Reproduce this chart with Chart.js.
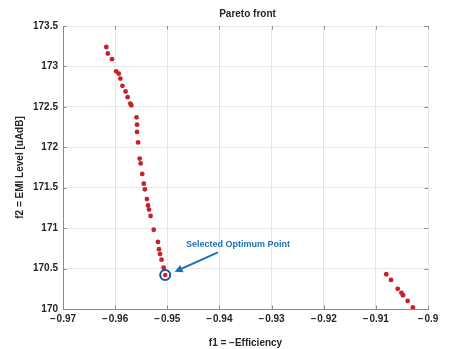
<!DOCTYPE html>
<html>
<head>
<meta charset="utf-8">
<script src="https://cdn.jsdelivr.net/npm/chart.js@4/dist/chart.umd.min.js"></script>
<style>
  html, body { margin: 0; padding: 0; background: #fff; }
  #chart { display: block; }
</style>
</head>
<body>
<canvas id="chart" width="474" height="349"></canvas>
<script>
// Pareto front: left branch (f1, f2)
const frontF1 = [-0.9617, -0.9614, -0.9606, -0.9598, -0.9593, -0.9590, -0.9586, -0.9580, -0.9576,
  -0.9571, -0.9569, -0.9559, -0.9558, -0.9558, -0.9556, -0.9553, -0.9551, -0.9548, -0.9545,
  -0.9543, -0.9539, -0.9537, -0.9535, -0.9532, -0.9526, -0.9518, -0.9516, -0.9514, -0.9511, -0.9507];
const frontF2 = [173.24, 173.16, 173.09, 172.94, 172.91, 172.85, 172.76, 172.69, 172.62,
  172.54, 172.52, 172.37, 172.28, 172.19, 172.06, 171.86, 171.80, 171.67, 171.55,
  171.48, 171.36, 171.28, 171.23, 171.15, 170.98, 170.83, 170.74, 170.68, 170.61, 170.51];

// right branch near f1 = -0.91
const tailF1 = [-0.9080, -0.9071, -0.9058, -0.9051, -0.9048, -0.9039, -0.9029];
const tailF2 = [170.43, 170.36, 170.25, 170.20, 170.17, 170.10, 170.02];

// chosen compromise
const optimumF1 = [-0.9504];
const optimumF2 = [170.42];

const xTicks = [-0.97, -0.96, -0.95, -0.94, -0.93, -0.92, -0.91, -0.9];
const yTicks = [170, 170.5, 171, 171.5, 172, 172.5, 173, 173.5];

const toPoints = (xs, ys) => xs.map((x, i) => ({ x, y: ys[i] }));
const fmtX = v => '\u2212\u200a' + String(parseFloat(Math.abs(v).toFixed(2)));
const fmtY = v => String(parseFloat(v.toFixed(1)));

const RED = '#c8202b';
const BLUE = '#1f6fb5';
const AXIS = '#8a8a8a';
const TEXT = '#262626';
const FONT = "'Liberation Sans', Arial, sans-serif";

// title, inward tick marks and the callout for the selected point
const decorations = {
  id: 'decorations',
  afterDatasetsDraw(chart) {
    const { ctx, chartArea: a, scales: { x, y } } = chart;
    ctx.save();

    ctx.strokeStyle = AXIS;
    ctx.lineWidth = 1;
    ctx.beginPath();
    xTicks.forEach(v => {
      const px = Math.round(x.getPixelForValue(v)) + 0.5;
      ctx.moveTo(px, a.bottom); ctx.lineTo(px, a.bottom - 3.5);
      ctx.moveTo(px, a.top); ctx.lineTo(px, a.top + 3.5);
    });
    yTicks.forEach(v => {
      const py = Math.round(y.getPixelForValue(v)) + 0.5;
      ctx.moveTo(a.left, py); ctx.lineTo(a.left + 3.5, py);
      ctx.moveTo(a.right, py); ctx.lineTo(a.right - 3.5, py);
    });
    ctx.stroke();

    // ring around the optimum
    const ox = x.getPixelForValue(optimumF1[0]);
    const oy = y.getPixelForValue(optimumF2[0]);
    ctx.strokeStyle = '#1b5596';
    ctx.lineWidth = 2;
    ctx.beginPath();
    ctx.arc(ox, oy, 5, 0, Math.PI * 2);
    ctx.stroke();

    // arrow
    const tx = x.getPixelForValue(-0.9403), ty = y.getPixelForValue(170.70);
    const hx = x.getPixelForValue(-0.9486), hy = y.getPixelForValue(170.46);
    const ang = Math.atan2(hy - ty, hx - tx);
    ctx.strokeStyle = BLUE;
    ctx.fillStyle = BLUE;
    ctx.lineWidth = 2;
    ctx.beginPath();
    ctx.moveTo(tx, ty);
    ctx.lineTo(hx - 6 * Math.cos(ang), hy - 6 * Math.sin(ang));
    ctx.stroke();
    ctx.beginPath();
    ctx.moveTo(hx, hy);
    ctx.lineTo(hx - 8 * Math.cos(ang) + 4 * Math.sin(ang), hy - 8 * Math.sin(ang) - 4 * Math.cos(ang));
    ctx.lineTo(hx - 8 * Math.cos(ang) - 4 * Math.sin(ang), hy - 8 * Math.sin(ang) + 4 * Math.cos(ang));
    ctx.closePath();
    ctx.fill();

    ctx.font = 'bold 9px ' + FONT;
    ctx.textAlign = 'left';
    ctx.textBaseline = 'middle';
    ctx.fillText('Selected Optimum Point', x.getPixelForValue(-0.9464), y.getPixelForValue(170.80));

    ctx.fillStyle = TEXT;
    ctx.font = 'bold 10px ' + FONT;
    ctx.textAlign = 'center';
    ctx.fillText('Pareto front', (a.left + a.right) / 2 + 2, 14);
    ctx.restore();
  }
};

new Chart(document.getElementById('chart'), {
  type: 'scatter',
  data: {
    datasets: [
      { label: 'front', data: toPoints(frontF1, frontF2), backgroundColor: RED, borderWidth: 0, pointRadius: 2.4 },
      { label: 'tail', data: toPoints(tailF1, tailF2), backgroundColor: RED, borderWidth: 0, pointRadius: 2.4 },
      { label: 'optimum', data: toPoints(optimumF1, optimumF2), backgroundColor: RED, borderWidth: 0, pointRadius: 2.2 }
    ]
  },
  options: {
    responsive: false,
    animation: false,
    layout: { padding: { top: 26, right: 46, left: 0, bottom: 0 } },
    plugins: { legend: { display: false }, tooltip: { enabled: false }, title: { display: false } },
    scales: {
      x: {
        type: 'linear', min: -0.97, max: -0.9,
        afterBuildTicks: s => { s.ticks = xTicks.map(value => ({ value })); },
        afterFit: s => { s.height = 40; },
        grid: { color: '#e6e6e6', drawTicks: false },
        border: { color: AXIS },
        ticks: { callback: v => fmtX(v), color: TEXT, font: { family: FONT, size: 10, weight: 'bold' }, padding: 4, maxRotation: 0 },
        title: { display: true, text: 'f1 = \u2212Efficiency', color: TEXT, font: { family: FONT, size: 10, weight: 'bold' }, padding: { top: 9, bottom: 0 } }
      },
      y: {
        type: 'linear', min: 170, max: 173.5,
        afterBuildTicks: s => { s.ticks = yTicks.map(value => ({ value })); },
        afterFit: s => { s.width = 63; },
        grid: { color: '#e6e6e6', drawTicks: false },
        border: { color: AXIS },
        ticks: { callback: v => fmtY(v), color: TEXT, font: { family: FONT, size: 10, weight: 'bold' }, padding: 5 },
        title: { display: true, text: 'f2 = EMI Level [uAdB]', color: TEXT, font: { family: FONT, size: 10, weight: 'bold' }, padding: { top: 14, bottom: 0 } }
      }
    }
  },
  plugins: [decorations]
});
</script>
</body>
</html>
